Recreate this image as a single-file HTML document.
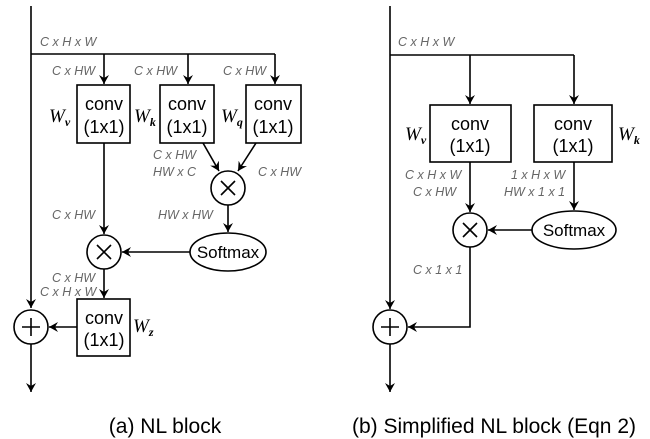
<!DOCTYPE html>
<html><head><style>body{margin:0;background:#fff}svg{display:block}
.l{font-family:"Liberation Sans",sans-serif;font-size:12.5px;font-style:italic;fill:#666}
.t{font-family:"Liberation Sans",sans-serif;font-size:18px;fill:#000;text-anchor:middle}
.w{font-family:"Liberation Serif",serif;font-style:italic;font-size:19px;fill:#000}
.w tspan{font-size:12px;font-weight:bold}
</style></head><body>
<svg width="650" height="439" xmlns="http://www.w3.org/2000/svg">
<defs><marker id="a" markerWidth="10" markerHeight="10" refX="9" refY="5" orient="auto" markerUnits="userSpaceOnUse"><path d="M0,0 L9,5 L0,10 L3,5 Z" fill="#000"/></marker></defs>
<g stroke="#000" stroke-width="1.6" fill="none">
<line x1="31" y1="6" x2="31" y2="308" marker-end="url(#a)"/>
<polyline points="31,54 275,54"/>
<line x1="104" y1="54" x2="104" y2="84" marker-end="url(#a)"/>
<line x1="188" y1="54" x2="188" y2="84" marker-end="url(#a)"/>
<line x1="275" y1="54" x2="275" y2="84" marker-end="url(#a)"/>
<rect x="77" y="85" width="53" height="58"/>
<rect x="160" y="85" width="54" height="58"/>
<rect x="246" y="85" width="55" height="58"/>
<line x1="203" y1="143" x2="219" y2="171" marker-end="url(#a)"/>
<line x1="256" y1="143" x2="238" y2="171" marker-end="url(#a)"/>
<circle cx="228" cy="188" r="17"/>
<line x1="228" y1="205" x2="228" y2="232" marker-end="url(#a)"/>
<ellipse cx="228" cy="252" rx="38" ry="19"/>
<line x1="190" y1="252" x2="122" y2="252" marker-end="url(#a)"/>
<line x1="104" y1="143" x2="104" y2="234" marker-end="url(#a)"/>
<circle cx="104" cy="252" r="17"/>
<line x1="104" y1="269" x2="104" y2="298" marker-end="url(#a)"/>
<rect x="77" y="299" width="53" height="57"/>
<line x1="77" y1="327" x2="49" y2="327" marker-end="url(#a)"/>
<circle cx="31" cy="327" r="17"/>
<line x1="31" y1="344" x2="31" y2="392" marker-end="url(#a)"/>
<line x1="390" y1="6" x2="390" y2="309" marker-end="url(#a)"/>
<polyline points="390,55 574,55"/>
<line x1="470" y1="55" x2="470" y2="104" marker-end="url(#a)"/>
<line x1="574" y1="55" x2="574" y2="104" marker-end="url(#a)"/>
<rect x="430" y="105" width="81" height="57"/>
<rect x="534" y="105" width="78" height="57"/>
<line x1="470" y1="162" x2="470" y2="212" marker-end="url(#a)"/>
<line x1="574" y1="162" x2="574" y2="210" marker-end="url(#a)"/>
<circle cx="470" cy="230" r="17"/>
<ellipse cx="574" cy="230" rx="42" ry="19"/>
<line x1="532" y1="230" x2="488" y2="230" marker-end="url(#a)"/>
<polyline points="470,247 470,327 408,327" marker-end="url(#a)"/>
<circle cx="390" cy="327" r="17"/>
<line x1="390" y1="344" x2="390" y2="392" marker-end="url(#a)"/>
<path d="M97,245 L111,259 M111,245 L97,259 M221,181 L235,195 M235,181 L221,195 M463,223 L477,237 M477,223 L463,237"/>
<path d="M22,327 H40 M31,318 V336 M381,327 H399 M390,318 V336"/>
</g>
<g class="t">
<text x="104" y="110">conv</text><text x="104" y="133">(1x1)</text>
<text x="187" y="110">conv</text><text x="187" y="133">(1x1)</text>
<text x="273" y="110">conv</text><text x="273" y="133">(1x1)</text>
<text x="104" y="324">conv</text><text x="104" y="346">(1x1)</text>
<text x="228" y="258" font-size="17">Softmax</text>
<text x="470" y="130">conv</text><text x="470" y="152">(1x1)</text>
<text x="573" y="130">conv</text><text x="573" y="152">(1x1)</text>
<text x="574" y="236" font-size="17">Softmax</text>
<text x="165" y="433" font-size="21">(a) NL block</text>
<text x="494" y="433" font-size="21">(b) Simplified NL block (Eqn 2)</text>
</g>
<g class="l">
<text x="40" y="46">C x H x W</text>
<text x="52" y="75">C x HW</text><text x="134" y="75">C x HW</text><text x="223" y="75">C x HW</text>
<text x="153" y="159">C x HW</text><text x="153" y="176">HW x C</text><text x="258" y="176">C x HW</text>
<text x="52" y="219">C x HW</text><text x="158" y="219">HW x HW</text>
<text x="52" y="282">C x HW</text><text x="40" y="296">C x H x W</text>
<text x="398" y="46">C x H x W</text>
<text x="405" y="179">C x H x W</text><text x="413" y="196">C x HW</text>
<text x="511" y="179">1 x H x W</text><text x="504" y="196">HW x 1 x 1</text>
<text x="413" y="274">C x 1 x 1</text>
</g>
<g class="w">
<text x="49" y="122">W<tspan dy="4">v</tspan></text>
<text x="134" y="122">W<tspan dy="4">k</tspan></text>
<text x="221" y="122">W<tspan dy="4">q</tspan></text>
<text x="133" y="332">W<tspan dy="4">z</tspan></text>
<text x="405" y="140">W<tspan dy="4">v</tspan></text>
<text x="618" y="140">W<tspan dy="4">k</tspan></text>
</g>
</svg>
</body></html>
